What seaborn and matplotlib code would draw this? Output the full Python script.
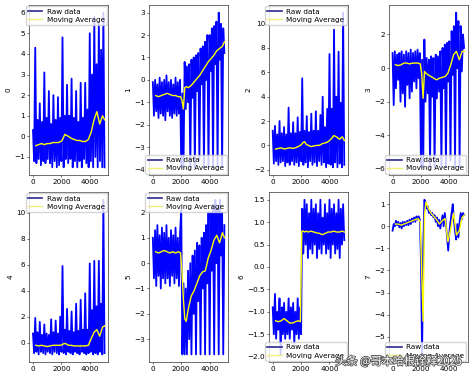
import numpy as np
import matplotlib
matplotlib.use('Agg')
import matplotlib.pyplot as plt
import matplotlib.patheffects as pe
import seaborn as sns

# raw samples, one every 80 steps (0 .. 5040)
raw_0 = [0.3, -1.2, 4.3, -1.3, 0.8, -1.1, 1.6, -1.4, 0.7, -1.2, 3.1, -1.3, 0.9, -1.1, 2.2, -1.3,
         0.6, -1.5, 2.0, -1.2, 0.8, -1.5, 1.9, -1.4, 0.9, -1.2, 4.8, -1.5, 1.0, -1.1, 2.5, -1.3,
         1.0, -1.1, 2.8, -1.5, 0.9, -1.2, 2.2, -1.5, 0.7, -1.2, 2.6, -1.5, 0.9, -1.1, 2.6, -1.3,
         1.3, -1.5, 5.0, -1.2, 3.0, -1.5, 5.8, -1.0, 3.5, -1.5, 5.5, -1.2, 4.2, -1.5, 6.0, -1.5]
raw_1 = [-0.1, -1.6, 0.0, -1.4, -0.2, -1.7, 0.1, -1.5, -0.1, -1.6, 0.0, -1.8, 0.2, -1.4, -0.1, -1.6,
         0.0, -1.7, -0.2, -1.5, 0.1, -1.6, -0.1, -1.5, 0.0, -3.9, -0.6, -3.9, 0.8, -1.3, 0.6, -1.0,
         0.7, -3.9, 0.9, -0.8, 1.0, -3.9, 1.1, -0.5, 1.2, -3.6, 1.4, -0.2, 1.5, -3.9, 1.7, 0.0,
         2.0, -3.9, 2.0, 0.4, 2.3, -3.9, 2.4, 0.7, 2.6, -3.9, 3.0, 0.9, 2.5, -3.9, 2.3, 1.2]
raw_2 = [1.2, -1.5, 1.6, -1.3, 0.9, -1.6, 2.0, -1.4, 1.0, -1.3, 1.5, -1.7, 0.9, -1.4, 3.1, -1.6,
         1.0, -1.3, 1.9, -1.6, 1.0, -1.4, 2.3, -1.7, 1.1, -1.3, 5.5, -1.6, 1.2, -1.4, 2.4, -1.8,
         1.1, -1.3, 2.6, -1.6, 1.2, -1.4, 2.8, -1.7, 1.2, -1.3, 2.5, -1.6, 4.0, -1.4, 1.5, -1.8,
         3.0, -1.5, 7.5, -1.6, 3.0, -1.8, 9.5, -1.4, 4.0, -1.8, 7.7, -1.5, 3.5, -1.8, 10.9, -1.6]
raw_3 = [0.9, -2.2, 1.0, -1.2, 0.8, -0.7, 0.9, -2.0, 1.0, -1.5, 0.8, -2.3, 1.0, -1.0, 0.9, -1.8,
         1.1, -1.4, 0.9, -0.8, 1.0, -1.2, 1.1, -0.6, 0.9, -5.9, 0.5, -5.9, 1.7, -2.0, 0.6, -1.5,
         0.5, -5.9, 0.7, -1.7, 0.6, -5.9, 0.8, -1.8, 0.7, -1.4, 1.0, -5.9, 1.2, -1.2, 1.4, -5.9,
         1.5, -0.8, 1.6, -5.5, 2.2, -0.4, 2.5, -5.9, 3.3, 0.0, 2.8, -5.9, 2.5, -0.2, 2.0, 1.2]
raw_4 = [0.7, -0.8, 1.9, -0.7, 0.8, -0.9, 1.6, -0.7, 0.6, -0.8, 1.4, -0.9, 0.7, -0.7, 0.6, -0.8,
         1.8, -0.9, 0.8, -0.7, 1.7, -0.8, 0.7, -0.9, 2.0, -0.7, 5.9, -0.8, 1.0, -0.9, 2.6, -0.7,
         0.9, -0.8, 2.4, -0.9, 0.8, -0.7, 3.0, -0.8, 0.9, -0.9, 3.3, -0.7, 1.0, -0.8, 3.8, -0.9,
         1.0, -0.8, 6.1, -0.7, 2.5, -0.9, 6.3, -0.8, 2.8, -0.9, 6.3, -0.7, 3.0, -0.9, 11.0, -0.8]
raw_5 = [1.0, -0.6, 1.3, -0.9, 1.5, -0.5, 1.1, -1.0, 1.4, -0.6, 1.2, -0.8, 1.5, -0.6, 1.0, -0.9,
         1.3, -0.5, 1.1, -0.8, 1.4, -0.6, 1.0, -0.9, 1.2, 2.1, -3.6, -0.8, -3.6, -1.0, -3.6, -0.3,
         -3.0, 0.0, -3.6, 0.3, -2.0, 0.5, -3.6, 0.8, -1.5, 0.7, -3.6, 1.0, -1.0, 1.2, -3.6, 1.5,
         -0.8, 2.0, -3.6, 2.0, -0.3, 2.3, -3.6, 2.5, 0.0, 2.2, -3.6, 2.5, 0.3, 2.0, -3.6, 1.5]
raw_6 = [-0.9, -1.5, -0.6, -1.6, -1.0, -1.4, -0.7, -1.95, -0.9, -1.5, -0.8, -1.6, -1.0, -1.5, -0.7, -1.6,
         -0.9, -1.4, -0.8, -1.7, -1.0, -1.5, -0.7, -1.6, -0.9, -1.5, 1.3, 0.3, 1.5, 0.5, 1.4, 0.2,
         1.2, 0.4, 1.5, 0.3, 1.3, 0.5, 1.4, 0.2, 1.2, 0.4, 1.5, 0.3, 1.1, 0.5, 1.4, 0.3,
         1.2, 0.4, 1.5, 0.2, 1.3, 0.5, 1.4, 0.3, 1.2, 0.4, 1.5, 0.2, 1.3, 0.5, 1.4, 0.6]
raw_7 = [-0.2, 0.1, 0.0, 0.25, 0.05, 0.2, -0.05, 0.15, -0.1, 0.2, 0.0, 0.2, 0.05, 0.25, 0.05, 0.3,
         0.1, 0.35, 0.2, 0.4, 0.2, 0.45, 0.3, 0.45, 0.3, -1.5, -5.8, -1.0, 1.2, 1.1, 0.8, 0.9,
         0.6, 0.7, 0.5, 0.6, 0.4, 0.5, 0.2, 0.4, 0.0, 0.3, -0.1, 0.2, 0.5, 0.0, 0.6, 0.1,
         -0.5, -1.1, -0.3, 0.2, 0.6, 1.0, 0.3, -0.2, -0.6, 0.1, -0.5, 0.2, 0.6, 0.3, 0.6, 0.5]
raw_series = [raw_0, raw_1, raw_2, raw_3, raw_4, raw_5, raw_6, raw_7]

# moving average, read at these positions
ma_x = [200, 400, 600, 800, 1000, 1200, 1400, 1600, 1800, 1950, 2050, 2150, 2250, 2350,
        2500, 2700, 2900, 3100, 3300, 3500, 3700, 3900, 4100, 4300, 4500, 4700, 4900, 5050]
ma_0 = [-0.45, -0.4, -0.35, -0.4, -0.35, -0.35, -0.3, -0.3, -0.3, -0.25, -0.2, -0.05, 0.1, 0.05,
        0.0, -0.1, -0.15, -0.2, -0.2, -0.25, -0.25, -0.15, 0.2, 0.8, 1.2, 0.6, 1.0, 0.8]
ma_1 = [-0.7, -0.75, -0.7, -0.65, -0.6, -0.65, -0.7, -0.7, -0.75, -0.75, -0.9, -1.3, -0.35, -0.3,
        -0.35, -0.25, -0.1, 0.05, 0.2, 0.4, 0.6, 0.8, 0.95, 1.1, 1.3, 1.4, 1.5, 1.7]
ma_2 = [-0.3, -0.25, -0.2, -0.3, -0.25, -0.2, -0.25, -0.2, -0.1, 0.0, 0.1, 0.25, 0.3, 0.1,
        0.0, -0.1, -0.05, 0.0, 0.0, 0.15, 0.2, 0.3, 0.5, 0.8, 0.7, 0.5, 0.7, 0.4]
ma_3 = [0.2, 0.15, 0.2, 0.3, 0.3, 0.25, 0.3, 0.3, 0.3, 0.25, -0.3, -1.8, -0.2, -0.3,
        -0.4, -0.5, -0.6, -0.7, -0.6, -0.55, -0.5, -0.3, 0.2, 0.8, 1.0, 0.5, 1.0, 1.0]
ma_4 = [-0.2, -0.25, -0.2, -0.25, -0.3, -0.25, -0.2, -0.2, -0.2, -0.2, -0.15, -0.1, -0.05, -0.1,
        -0.2, -0.2, -0.25, -0.25, -0.25, -0.25, -0.25, -0.2, 0.3, 0.8, 1.0, 0.5, 1.2, 1.3]
ma_5 = [0.45, 0.4, 0.45, 0.5, 0.45, 0.4, 0.45, 0.4, 0.45, 0.4, -0.3, -1.4, -2.2, -2.3,
        -1.8, -1.3, -1.1, -0.8, -0.5, -0.35, -0.3, 0.2, 0.5, 0.9, 1.1, 0.8, 1.2, 1.0]
ma_6 = [-1.2, -1.22, -1.2, -1.15, -1.2, -1.25, -1.25, -1.22, -1.2, -1.22, 0.8, 0.8, 0.78, 0.8,
        0.78, 0.8, 0.78, 0.76, 0.75, 0.72, 0.75, 0.78, 0.78, 0.8, 0.78, 0.78, 0.8, 0.78]
ma_7 = [0.1, 0.1, 0.05, 0.1, 0.15, 0.2, 0.25, 0.3, 0.35, 0.2, -2.0, -4.3, 0.5, 1.1,
        0.85, 0.6, 0.45, 0.3, 0.1, 0.25, 0.35, -0.7, -0.1, 0.6, -0.4, -0.2, 0.4, 0.5]
ma_series = [ma_0, ma_1, ma_2, ma_3, ma_4, ma_5, ma_6, ma_7]

legend_locs = ['upper right', 'lower right', 'upper right', 'lower right',
               'upper right', 'upper right', 'lower right', 'lower right']

plt.rcParams['font.size'] = 5.2
plt.rcParams['axes.linewidth'] = 0.4
plt.rcParams['xtick.major.width'] = 0.4
plt.rcParams['ytick.major.width'] = 0.4
plt.rcParams['xtick.major.size'] = 1.5
plt.rcParams['ytick.major.size'] = 1.5
plt.rcParams['xtick.major.pad'] = 1.5
plt.rcParams['ytick.major.pad'] = 1.5

fig, axes = plt.subplots(2, 4, figsize=(4.74, 3.78), dpi=100)
fig.subplots_adjust(left=0.062, right=0.987, top=0.987, bottom=0.042, wspace=0.52, hspace=0.1)

for i, ax in enumerate(axes.flat):
    raw = raw_series[i]
    x_raw = np.arange(len(raw)) * 80
    sns.lineplot(x=x_raw, y=raw, ax=ax, color='blue', linewidth=1.3, label='Raw data')
    sns.lineplot(x=ma_x, y=ma_series[i], ax=ax, color='yellow', linewidth=1.0, label='Moving Average')
    ax.set_ylabel(str(i), labelpad=2)
    ax.set_xticks([0, 2000, 4000])
    leg = ax.legend(loc=legend_locs[i], fontsize=5.2, handlelength=2.0, borderpad=0.3,
                    labelspacing=0.3, handletextpad=0.6, borderaxespad=0.2)
    leg.get_lines()[0].set_color('#3c3c96')
    leg.get_lines()[1].set_color('#f0f07a')

# watermark
fig.text(0.975, 0.045, '头条 @哥本哈根诠释2025', ha='right', va='center', fontsize=8,
         color='white', family=['Noto Sans CJK SC', 'DejaVu Sans'],
         path_effects=[pe.withStroke(linewidth=1.2, foreground='#555555')])

plt.savefig('out.png', dpi=100)
